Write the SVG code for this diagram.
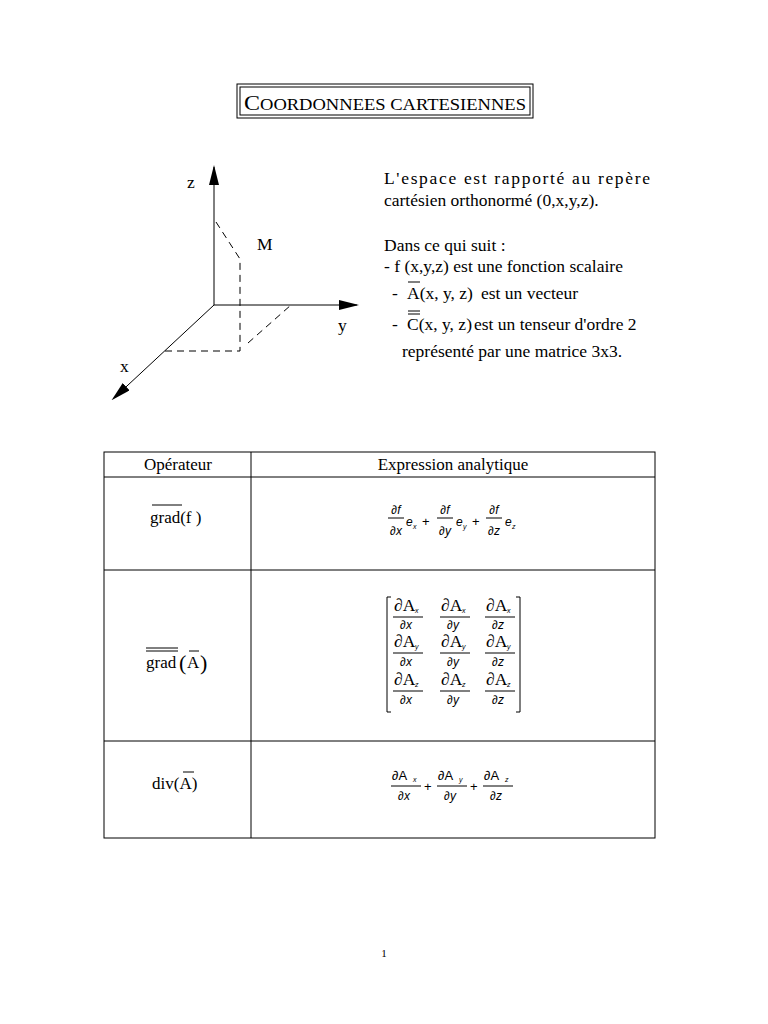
<svg xmlns="http://www.w3.org/2000/svg" width="768" height="1024" viewBox="0 0 768 1024">
<style>
text{font-family:"Liberation Serif",serif;font-size:17.5px;fill:#000}
.t{font-size:17px}
.s{font-family:"Liberation Sans",sans-serif;font-size:13px}
.i{font-family:"Liberation Sans",sans-serif;font-size:12px;font-style:italic}
.sub{font-family:"Liberation Sans",sans-serif;font-size:7px;font-style:italic}
.m{text-anchor:middle}
.k{stroke:#000;fill:none}
.d{stroke-dasharray:7,5}
</style>
<defs><marker id="ar" markerWidth="20" markerHeight="10" refX="18" refY="5" orient="auto" markerUnits="userSpaceOnUse"><path d="M0,0L20,5L0,10Z" fill="#000"/></marker></defs>
<rect width="768" height="1024" fill="#fff"/>
<g id="title" class="k">
<rect x="237" y="84" width="296" height="34"/><rect x="240" y="87" width="290" height="28"/>
<text x="385" y="110" class="m" textLength="282" lengthAdjust="spacingAndGlyphs" style="font-size:22px;stroke:none;fill:#000">C<tspan style="font-size:17px">OORDONNEES CARTESIENNES</tspan></text>
</g>
<g id="axes" class="k">
<line x1="214" y1="305" x2="214" y2="167" marker-end="url(#ar)"/>
<line x1="214" y1="305" x2="357" y2="305" marker-end="url(#ar)"/>
<line x1="214" y1="305" x2="113" y2="399" marker-end="url(#ar)"/>
<path class="d" d="M216,222L240,259L240,351"/>
<line class="d" x1="165" y1="351" x2="240" y2="351"/>
<line class="d" x1="248" y1="343" x2="291" y2="305"/>
</g>
<g id="axlabels">
<text x="187" y="188">z</text><text x="257" y="250">M</text><text x="338" y="331">y</text><text x="120" y="372">x</text>
</g>
<g id="desc">
<text x="384" y="184" textLength="266" lengthAdjust="spacing">L'espace est rapporté au repère</text>
<text x="384" y="206">cartésien orthonormé (0,x,y,z).</text>
<text x="384" y="251">Dans ce qui suit :</text>
<text x="384" y="272"> - f (x,y,z) est une fonction scalaire</text>
<text x="392" y="299">- </text><text x="407" y="299">A(x, y, z)</text><text x="481" y="299">est un vecteur</text>
<text x="392" y="330">- </text><text x="407" y="330">C(x, y, z)</text><text x="474" y="330">est un tenseur d'ordre 2</text>
<text x="402" y="357">représenté par une matrice 3x3.</text>
<g class="k"><line x1="408" y1="282" x2="420" y2="282"/><line x1="408" y1="311" x2="420" y2="311"/><line x1="408" y1="314" x2="420" y2="314"/></g>
</g>
<g id="table">
<g class="k">
<rect x="104" y="452" width="551" height="386"/>
<line x1="251" y1="452" x2="251" y2="838"/>
<line x1="104" y1="477" x2="655" y2="477"/>
<line x1="104" y1="570" x2="655" y2="570"/>
<line x1="104" y1="741" x2="655" y2="741"/>
<line x1="152" y1="505" x2="182" y2="505"/>
<line x1="146" y1="648" x2="178" y2="648"/><line x1="146" y1="651" x2="178" y2="651"/><line x1="189" y1="651" x2="199" y2="651"/>
<line x1="183" y1="772" x2="194" y2="772"/>
</g>
<text x="178" y="470" class="m t">Opérateur</text>
<text x="453" y="470" class="m t">Expression analytique</text>
<text x="150" y="523" class="t">grad(f )</text>
<text x="146" y="668" class="t">grad</text><text x="179" y="670" style="font-size:22px">(</text><text x="187" y="668" class="t">A</text><text x="200" y="670" style="font-size:22px">)</text>
<text x="152" y="789" class="t">div(A)</text>
</g>
<g id="grad">
<text x="396" y="514" class="i m">∂f</text><text x="396" y="535" class="i m">∂x</text>
<text x="406" y="526" class="i">e</text><text x="413" y="529" class="sub">x</text><text x="422" y="526" class="s">+</text>
<text x="445" y="514" class="i m">∂f</text><text x="445" y="535" class="i m">∂y</text>
<text x="456" y="526" class="i">e</text><text x="463" y="529" class="sub">y</text><text x="472" y="526" class="s">+</text>
<text x="494" y="514" class="i m">∂f</text><text x="494" y="535" class="i m">∂z</text>
<text x="505" y="526" class="i">e</text><text x="512" y="529" class="sub">z</text>
<path class="k" d="M388,518h16M437,518h16M486,518h16"/>
</g>
<g id="matrix">
<path class="k" d="M391,597h-4v115h4M516,597h4v115h-4"/>
<g class="s">
<text x="394" y="611">∂A</text><text x="441" y="611">∂A</text><text x="486" y="611">∂A</text>
<text x="394" y="647">∂A</text><text x="441" y="647">∂A</text><text x="486" y="647">∂A</text>
<text x="394" y="685">∂A</text><text x="441" y="685">∂A</text><text x="486" y="685">∂A</text>
</g>
<text x="415" y="613" class="sub">x</text><text x="462" y="613" class="sub">x</text><text x="507" y="613" class="sub">x</text>
<text x="415" y="649" class="sub">y</text><text x="462" y="649" class="sub">y</text><text x="507" y="649" class="sub">y</text>
<text x="415" y="687" class="sub">z</text><text x="462" y="687" class="sub">z</text><text x="507" y="687" class="sub">z</text>
<path class="k" d="M393,617h30M440,617h30M485,617h30M393,653h30M440,653h30M485,653h30M393,691h30M440,691h30M485,691h30"/>
<text x="406" y="629" class="i m">∂x</text><text x="453" y="629" class="i m">∂y</text><text x="498" y="629" class="i m">∂z</text>
<text x="406" y="666" class="i m">∂x</text><text x="453" y="666" class="i m">∂y</text><text x="498" y="666" class="i m">∂z</text>
<text x="406" y="704" class="i m">∂x</text><text x="453" y="704" class="i m">∂y</text><text x="498" y="704" class="i m">∂z</text>
</g>
<g id="div">
<text x="392" y="780" class="s">∂A</text><text x="413" y="782" class="sub">x</text><text x="404" y="800" class="i m">∂x</text>
<text x="424" y="791" class="s">+</text>
<text x="438" y="780" class="s">∂A</text><text x="459" y="782" class="sub">y</text><text x="450" y="800" class="i m">∂y</text>
<text x="470" y="791" class="s">+</text>
<text x="484" y="780" class="s">∂A</text><text x="505" y="782" class="sub">z</text><text x="496" y="800" class="i m">∂z</text>
<path class="k" d="M391,786h30M437,786h30M483,786h30"/>
</g>
<text x="384" y="957" class="m" style="font-size:11px">1</text>
</svg>
